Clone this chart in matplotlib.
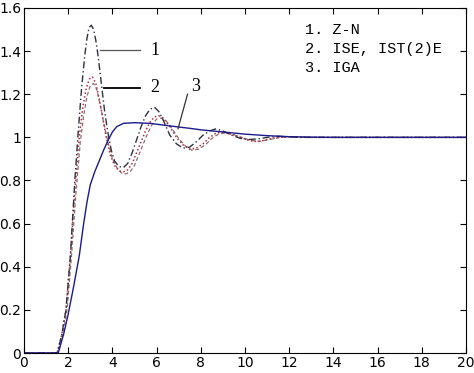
import matplotlib
matplotlib.use("Agg")
import matplotlib.pyplot as plt

# Curve 1: Z-N (dash-dot)
t1 = [0, 1.5, 1.7, 1.9, 2.1, 2.3, 2.45, 2.6, 2.75, 2.85, 2.95, 3.05, 3.15, 3.25, 3.35, 3.5, 3.65, 3.8, 3.95, 4.1, 4.3, 4.5, 4.7, 4.9, 5.1, 5.3, 5.5, 5.7, 5.9, 6.1, 6.3, 6.6, 6.9, 7.2, 7.5, 7.8, 8.1, 8.4, 8.7, 9.0, 9.4, 9.8, 10.2, 10.6, 11.0, 11.5, 12.0, 12.5, 13.0, 20]
y1 = [0, 0, 0.08, 0.2, 0.45, 0.8, 1.02, 1.22, 1.38, 1.46, 1.51, 1.52, 1.5, 1.45, 1.38, 1.25, 1.12, 1.02, 0.94, 0.89, 0.865, 0.86, 0.88, 0.93, 0.99, 1.05, 1.1, 1.13, 1.14, 1.12, 1.08, 1.01, 0.97, 0.95, 0.955, 0.98, 1.01, 1.03, 1.04, 1.03, 1.01, 0.995, 0.99, 0.993, 1.0, 1.005, 1.003, 1.0, 1.0, 1.0]

# Curve 2a: ISE (red dotted)
t2 = [0, 1.5, 1.7, 1.9, 2.1, 2.3, 2.5, 2.65, 2.8, 2.95, 3.1, 3.25, 3.4, 3.55, 3.7, 3.9, 4.1, 4.3, 4.5, 4.7, 4.9, 5.1, 5.3, 5.5, 5.7, 5.9, 6.1, 6.3, 6.6, 6.9, 7.2, 7.5, 7.8, 8.1, 8.4, 8.7, 9.0, 9.4, 9.8, 10.2, 10.6, 11.0, 11.5, 12.0, 13.0, 20]
y2 = [0, 0, 0.08, 0.2, 0.45, 0.75, 1.0, 1.13, 1.22, 1.27, 1.28, 1.25, 1.18, 1.1, 1.01, 0.92, 0.87, 0.845, 0.84, 0.85, 0.88, 0.93, 0.98, 1.03, 1.07, 1.095, 1.1, 1.09, 1.05, 1.0, 0.965, 0.945, 0.95, 0.97, 1.0, 1.02, 1.025, 1.015, 1.0, 0.985, 0.98, 0.99, 1.0, 1.003, 1.0, 1.0]

# Curve 2b: IST(2)E (gray dashed)
t2b = [0, 1.55, 1.75, 1.95, 2.15, 2.35, 2.55, 2.7, 2.85, 3.0, 3.15, 3.3, 3.45, 3.6, 3.8, 4.0, 4.2, 4.4, 4.6, 4.8, 5.0, 5.2, 5.4, 5.6, 5.8, 6.0, 6.2, 6.4, 6.7, 7.0, 7.3, 7.6, 7.9, 8.2, 8.5, 8.8, 9.1, 9.5, 9.9, 10.3, 10.7, 11.1, 11.6, 12.1, 13.0, 20]
y2b = [0, 0, 0.08, 0.2, 0.45, 0.74, 0.98, 1.1, 1.19, 1.24, 1.25, 1.22, 1.15, 1.07, 0.98, 0.9, 0.86, 0.835, 0.83, 0.84, 0.87, 0.92, 0.97, 1.02, 1.06, 1.085, 1.09, 1.08, 1.04, 0.995, 0.96, 0.94, 0.945, 0.965, 0.995, 1.015, 1.02, 1.012, 0.998, 0.985, 0.982, 0.99, 1.0, 1.002, 1.0, 1.0]

# Curve 3: IGA (solid blue)
t3 = [0, 1.55, 1.8, 2.0, 2.25, 2.5, 2.7, 2.85, 3.0, 3.2, 3.4, 3.6, 3.8, 4.0, 4.2, 4.5, 5.0, 5.7, 6.3, 7.0, 7.5, 8.0, 9.0, 10.0, 11.0, 12.0, 13.0, 14.0, 20]
y3 = [0, 0, 0.09, 0.18, 0.31, 0.45, 0.6, 0.7, 0.78, 0.84, 0.89, 0.94, 0.985, 1.025, 1.05, 1.065, 1.068, 1.065, 1.057, 1.048, 1.042, 1.035, 1.025, 1.015, 1.008, 1.003, 1.001, 1.0, 1.0]

legend_lines = ["1. Z-N", "2. ISE, IST(2)E", "3. IGA"]
x_ticks = [0, 2, 4, 6, 8, 10, 12, 14, 16, 18, 20]
y_ticks = [0, 0.2, 0.4, 0.6, 0.8, 1.0, 1.2, 1.4, 1.6]
y_tick_labels = ["0", "0.2", "0.4", "0.6", "0.8", "1", "1.2", "1.4", "1.6"]

fig = plt.figure(figsize=(4.74, 3.73), dpi=100)
ax = fig.add_axes([0.0506, 0.0536, 0.9325, 0.925])

ax.plot(t2b, y2b, color="#8a7070", lw=0.9, ls=(0, (3, 2)))
ax.plot(t2, y2, color="#b03040", lw=1.1, ls=(0, (1, 1.5)))
ax.plot(t1, y1, color="#303040", lw=1.0, ls=(0, (5, 2, 1, 2)))
ax.plot(t3, y3, color="#1a1a8c", lw=1.0)

# annotations
ax.plot([3.45, 5.25], [1.405, 1.405], color="#555555", lw=0.9)
ax.text(5.7, 1.405, "1", fontsize=13, family="Liberation Serif", va="center", ha="left")
ax.plot([3.6, 5.25], [1.23, 1.23], color="black", lw=1.3)
ax.text(5.7, 1.23, "2", fontsize=13, family="Liberation Serif", va="center", ha="left")
ax.plot([6.97, 7.4], [1.04, 1.2], color="#333333", lw=0.9)
ax.text(7.55, 1.235, "3", fontsize=13, family="Liberation Serif", va="center", ha="left")

for i, s in enumerate(legend_lines):
    ax.text(12.7, 1.497 - i * 0.088, s, fontsize=11, family="Liberation Mono",
            va="center", ha="left")

ax.set_xlim(0, 20)
ax.set_ylim(0, 1.6)
ax.set_xticks(x_ticks)
ax.set_yticks(y_ticks)
ax.set_yticklabels(y_tick_labels)
ax.tick_params(direction="in", top=True, right=True, length=4, width=0.8,
               labelsize=10, pad=2, colors="black")
for sp in ax.spines.values():
    sp.set_linewidth(0.8)

fig.savefig("out.png", dpi=100)
